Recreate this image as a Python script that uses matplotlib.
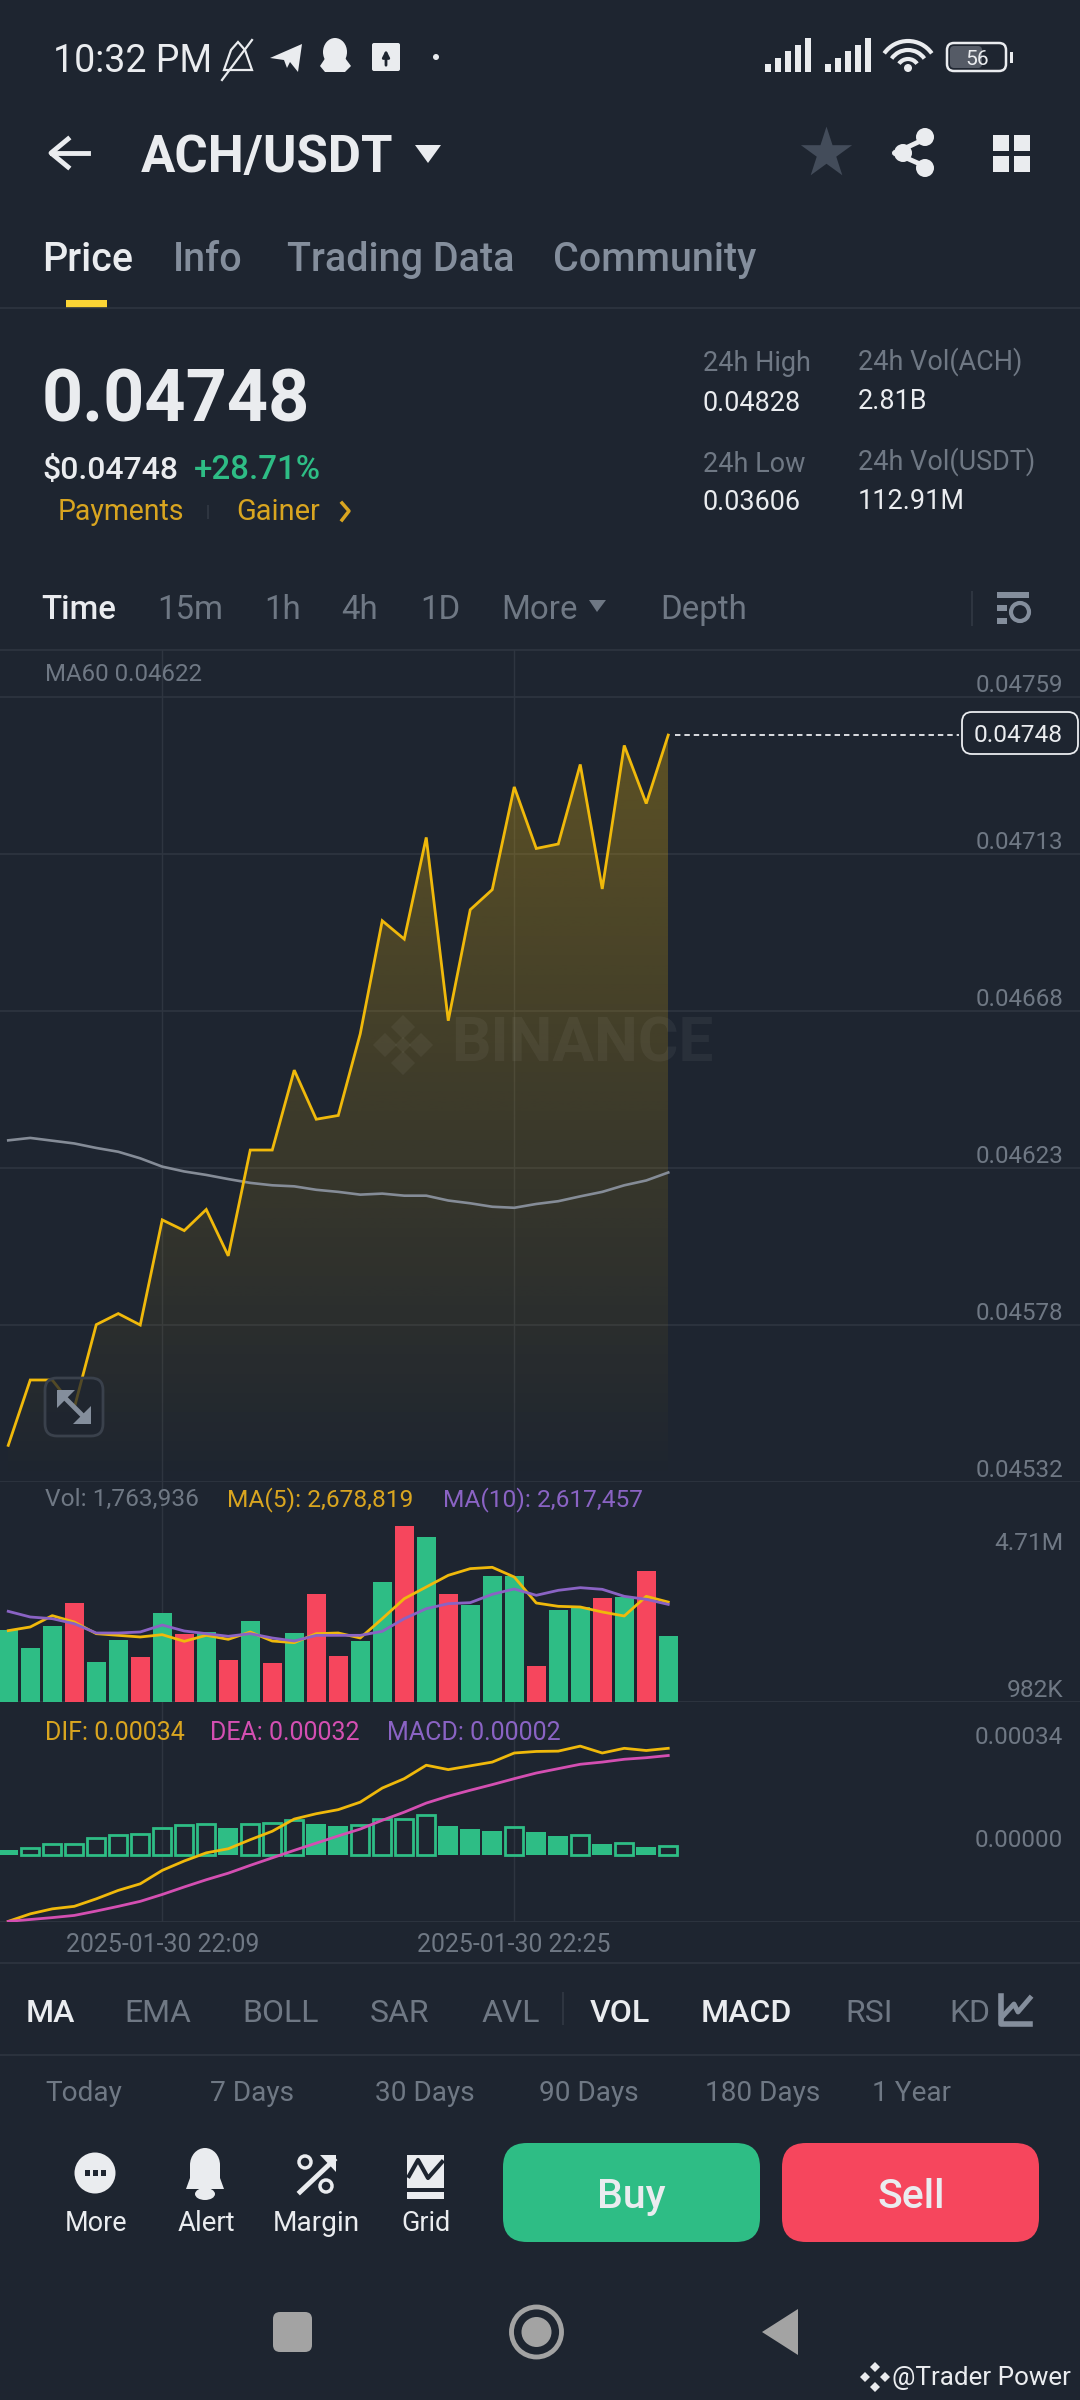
import numpy as np
import matplotlib
matplotlib.use("Agg")
import matplotlib.pyplot as plt
from matplotlib.patches import FancyBboxPatch, Polygon, Circle, Ellipse, Rectangle, Arc

plt.rcParams['font.family'] = ['Roboto', 'DejaVu Sans']

BG = '#1E2530'
GRID = '#2E3540'
YELLOW = '#F0B90B'
GREEN = '#2EBD85'
RED = '#F6465D'
GREY = '#848E9C'
DIM = '#6F7884'
WHITE = '#EAECEF'
PURPLE = '#8A63C4'
PINK = '#D44FB2'

# price panel
price = [0.045426, 0.045615, 0.045615, 0.045534, 0.045775, 0.045807, 0.045774, 0.046078,
         0.046047, 0.046108, 0.045974, 0.046280, 0.046280, 0.046511, 0.046369, 0.046380,
         0.046616, 0.046943, 0.046890, 0.047184, 0.046654, 0.046975, 0.047033, 0.047330,
         0.047152, 0.047165, 0.047395, 0.047035, 0.047450, 0.047282, 0.047480]
ma60 = [0.046308, 0.046315, 0.046307, 0.046299, 0.046286, 0.046275, 0.046256, 0.046232,
        0.046218, 0.046208, 0.046196, 0.046185, 0.046178, 0.046175, 0.046165, 0.046159,
        0.046151, 0.046154, 0.046148, 0.046148, 0.046134, 0.046126, 0.046116, 0.046113,
        0.046124, 0.046132, 0.046146, 0.046159, 0.046178, 0.046192, 0.046215]
price_ticks = [0.04759, 0.047136, 0.046682, 0.046228, 0.045774, 0.04532]
price_labels = ['0.04759', '0.04713', '0.04668', '0.04623', '0.04578', '0.04532']

# volume panel, millions
volume = [1.940, 1.457, 2.047, 2.663, 1.072, 1.671, 1.206, 2.386, 1.814, 1.877, 1.135,
          2.181, 1.046, 1.841, 2.896, 1.224, 1.644, 3.226, 4.710, 4.415, 2.905, 2.592,
          3.369, 3.369, 0.974, 2.476, 2.547, 2.788, 2.815, 3.503, 1.764]
vol_up = [1, 1, 1, 0, 1, 1, 0, 1, 0, 1, 0, 1, 0, 1, 0, 0, 1, 1, 0, 1, 0, 1, 1, 1, 0, 1, 1, 0, 1, 0, 1]
ma5 = [1.913, 2.011, 2.315, 2.145, 1.832, 1.787, 1.743, 1.805, 1.627, 1.787, 1.680, 1.877,
       1.635, 1.591, 1.832, 1.850, 1.716, 2.234, 2.770, 3.083, 3.396, 3.575, 3.611, 3.351,
       2.654, 2.565, 2.547, 2.413, 2.306, 2.833, 2.679]
ma10 = [2.431, 2.279, 2.234, 2.100, 1.850, 1.850, 1.877, 2.064, 1.904, 1.832, 1.761, 1.832,
        1.716, 1.635, 1.787, 1.787, 1.787, 1.895, 2.234, 2.502, 2.636, 2.663, 2.887, 3.030,
        2.860, 2.994, 3.065, 3.021, 2.833, 2.753, 2.617]

# macd panel, in units of 1e-5
dif = [-21.3, -18.9, -17.3, -16.5, -14.1, -11.4, -9.3, -5.0, -2.0, 0.6, 1.9, 4.8, 7.5, 11.4,
       13.1, 14.4, 16.8, 21.3, 24.3, 28.6, 27.2, 28.4, 29.6, 32.5, 33.0, 33.1, 34.7, 32.5,
       34.0, 33.3, 34.0]
dea = [-21.3, -20.7, -20.1, -19.4, -18.0, -16.5, -14.9, -12.7, -10.3, -8.0, -5.9, -3.4, -1.0,
       1.4, 3.7, 6.0, 8.2, 11.0, 13.6, 16.5, 18.7, 20.6, 22.4, 24.3, 26.1, 27.5, 28.9, 29.6,
       30.5, 31.0, 31.7]
macd = [1.4, 2.1, 3.3, 3.5, 5.2, 6.3, 6.7, 8.6, 9.4, 9.9, 8.6, 9.9, 10.1, 11.2, 9.9, 9.1, 9.5,
        11.4, 11.4, 12.7, 9.1, 8.3, 7.7, 8.7, 7.2, 6.0, 6.3, 3.3, 3.9, 2.5, 2.9]
macd_hollow = [0, 1, 1, 1, 1, 1, 1, 1, 1, 1, 0, 1, 1, 1, 0, 0, 1, 1, 1, 1, 0, 0, 0, 1, 0, 0, 1, 0, 1, 0, 1]

date_ticks = [7, 23]
date_labels = ['2025-01-30 22:09', '2025-01-30 22:25']

W, H = 1080, 2400
idx = np.arange(len(price))
xlim = (-0.375, 48.716)

fig = plt.figure(figsize=(W / 100, H / 100), dpi=100, facecolor=BG)


def panel(top, bottom):
    a = fig.add_axes([0, 1 - bottom / H, 1, (bottom - top) / H], facecolor='none')
    a.set_xlim(*xlim)
    for s in a.spines.values():
        s.set_visible(False)
    a.tick_params(length=0, labelleft=False, labelbottom=False)
    a.set_axisbelow(True)
    a.set_xticks(date_ticks)
    a.grid(True, axis='x', color=GRID, lw=1)
    return a


# price
ax = panel(650, 1482)
ax.set_ylim(0.04532, 0.047726)
ax.set_yticks(price_ticks)
ax.grid(True, axis='y', color=GRID, lw=1.2)
poly = ax.fill_between(idx, price, 0.04532, color='none')
grad = np.zeros((256, 1, 4))
grad[..., 0], grad[..., 1], grad[..., 2] = matplotlib.colors.to_rgb(YELLOW)
grad[:, 0, 3] = np.linspace(0.30, 0.0, 256)
im = ax.imshow(grad, extent=(0, 30, 0.04532, max(price)), aspect='auto', zorder=1)
im.set_clip_path(poly.get_paths()[0], transform=ax.transData)
ax.set_xlim(*xlim)
ax.set_ylim(0.04532, 0.047726)
ax.plot(idx, ma60, color='#858C97', lw=1.9, zorder=2)
ax.plot(idx, price, color=YELLOW, lw=2.0, zorder=3, solid_joinstyle='miter')
ax.plot([30.3, 43.2], [price[-1], price[-1]], color=WHITE, lw=1.3, ls=(0, (3, 2.2)), zorder=3)
for t, lab in zip(price_ticks, price_labels):
    ax.annotate(lab, xy=(1, t), xycoords=('axes fraction', 'data'), xytext=(-11.8, 8.4),
                textcoords='offset points', ha='right', va='center', color=DIM, fontsize=17.4)

# volume
ax = panel(1482, 1702)
ax.set_ylim(0, 5.898)
ax.bar(idx, volume, width=0.875, color=[GREEN if u else RED for u in vol_up], zorder=2)
ax.plot(idx, ma5, color=YELLOW, lw=2.0, zorder=3)
ax.plot(idx, ma10, color=PURPLE, lw=2.0, zorder=4)
ax.axhline(0, color=GRID, lw=2.0, zorder=1)

# macd
ax = panel(1702, 1922)
ax.set_ylim(-21.5e-5, 48.8e-5)
for i, v in enumerate(macd):
    if macd_hollow[i]:
        ax.bar(i, v * 1e-5, width=0.80, facecolor='none', edgecolor=GREEN, lw=2.0, zorder=2)
    else:
        ax.bar(i, v * 1e-5, width=0.90, color=GREEN, zorder=2)
ax.plot(idx, np.array(dif) * 1e-5, color=YELLOW, lw=2.0, zorder=3)
ax.plot(idx, np.array(dea) * 1e-5, color=PINK, lw=2.0, zorder=3)
ax.set_ylim(-21.5e-5, 48.8e-5)
ax.axhline(-21.5e-5, color=GRID, lw=2.0, zorder=1)
ax.set_xticklabels(date_labels)
ax.tick_params(axis='x', labelbottom=True, pad=8.2, labelsize=17.9, labelcolor=DIM)

# everything around the charts, in pixel coordinates
ui = fig.add_axes([0, 0, 1, 1], facecolor='none', zorder=10)
ui.set_xlim(0, W)
ui.set_ylim(H, 0)
ui.axis('off')


def txt(x, y, s, px, color=GREY, weight='normal', ha='left', **kw):
    # roboto sits a little high with va=center
    ui.text(x, y + 0.1 * px, s, fontsize=px * 0.72, color=color, fontweight=weight, ha=ha, va='center', **kw)


def hline(y, color=GRID, lw=1.2):
    ui.plot([0, W], [y, y], color=color, lw=lw)


def poly_(pts, color, **kw):
    ui.add_patch(Polygon(pts, closed=True, fc=color, ec='none', **kw))


def rbox(x0, y0, x1, y1, r, fc, ec='none', lw=0, **kw):
    ui.add_patch(FancyBboxPatch((x0 + r, y0 + r), x1 - x0 - 2 * r, y1 - y0 - 2 * r,
                                boxstyle=f'round,pad={r},rounding_size={r}', fc=fc, ec=ec, lw=lw, **kw))


# status bar
txt(53, 58, '10:32 PM', 37.5, WHITE)
ui.plot([222, 252], [80, 40], color=WHITE, lw=1.6)
ui.add_patch(Polygon([(224, 70), (231, 50), (238, 42), (245, 50), (252, 70)], fc='none', ec=WHITE, lw=1.6))
poly_([(270, 58), (302, 44), (298, 72), (290, 62), (287, 68), (284, 60)], WHITE)
ui.add_patch(Ellipse((335, 52), 24, 28, fc=WHITE))
poly_([(320, 66), (328, 54), (342, 54), (351, 66), (345, 72), (325, 72)], WHITE)
rbox(372, 43, 400, 71, 2, WHITE)
ui.annotate('', xy=(386, 47), xytext=(386, 68), arrowprops=dict(arrowstyle='-|>', color=BG, lw=2, mutation_scale=10))
ui.add_patch(Circle((436, 57), 3, fc=WHITE))
for x0 in (765, 825):
    for k in range(5):
        ui.add_patch(Rectangle((x0 + k * 10, 72 - 8 - k * 6.5), 6, 8 + k * 6.5, fc=WHITE))
for d in (58, 40, 22):
    ui.add_patch(Arc((908, 70), d, d, theta1=215, theta2=325, color=WHITE, lw=3))
ui.add_patch(Circle((908, 68), 4, fc=WHITE))
rbox(947, 43, 1006, 71, 7, 'none', WHITE, 1.8)
rbox(950, 46, 982, 68, 4, '#555B66')
ui.add_patch(Rectangle((1010, 52), 3, 11, fc=WHITE))
txt(977, 57, '56', 21, WHITE, ha='center')

# header
ui.plot([52, 88], [153, 153], color=WHITE, lw=3.5)
ui.plot([68, 51, 68], [139, 153, 167], color=WHITE, lw=3.5)
txt(141, 153, 'ACH/USDT', 51, WHITE, 'bold')
poly_([(415, 145), (441, 145), (428, 163)], WHITE)
ui.scatter([826], [153], marker='*', s=1500, color='#434C5A', lw=0)
for a, b in (((895, 153), (929, 137)), ((895, 153), (929, 168))):
    ui.plot(*zip(a, b), color=WHITE, lw=3.5)
ui.add_patch(Circle((925, 137), 9, fc=WHITE))
ui.add_patch(Circle((925, 168), 9, fc=WHITE))
ui.add_patch(Circle((903, 153), 9, fc=WHITE))
for x in (993, 1014):
    for y in (135, 156):
        ui.add_patch(Rectangle((x, y), 16, 16, fc=WHITE))

# tabs
txt(42, 256, 'Price', 39.5, WHITE, 'medium')
for x, s in ((173, 'Info'), (287, 'Trading Data'), (553, 'Community')):
    txt(x, 256, s, 39.5, GREY, 'medium')
ui.add_patch(Rectangle((66, 300), 41, 8, fc='#FCD535'))
hline(308)

# quote block
txt(42, 395, '0.04748', 72, WHITE, 'bold')
txt(42, 467, '$0.04748', 32, WHITE, 'medium')
txt(194, 467, '+28.71%', 33, GREEN, 'medium')
txt(58, 509, 'Payments', 28.5, '#D9A520')
txt(236, 509, 'Gainer', 29, '#D9A520')
ui.plot([208, 208], [506, 518], color=GRID, lw=1.5)
ui.plot([342, 349, 342], [503, 511, 520], color='#D9A520', lw=2.5)
for x, y, s, c in ((703, 361, '24h High', DIM), (703, 401, '0.04828', WHITE),
                   (858, 359, '24h Vol(ACH)', DIM), (858, 399, '2.81B', WHITE),
                   (703, 462, '24h Low', DIM), (703, 500, '0.03606', WHITE),
                   (858, 459, '24h Vol(USDT)', DIM), (858, 499, '112.91M', WHITE)):
    txt(x, y, s, 27, c)

# interval row
txt(41, 607, 'Time', 33, WHITE, 'medium')
for x, s in ((157, '15m'), (264, '1h'), (341, '4h'), (420, '1D'), (501, 'More'), (660, 'Depth')):
    txt(x, 607, s, 33, DIM)
poly_([(589, 600), (606, 600), (597, 612)], DIM)
ui.plot([972, 972], [592, 625], color=GRID, lw=1.5)
ui.add_patch(Rectangle((997, 592), 32, 6, fc=GREY))
ui.add_patch(Rectangle((997, 605), 10, 6, fc=GREY))
ui.add_patch(Rectangle((997, 618), 10, 6, fc=GREY))
ui.add_patch(Circle((1020, 612), 9, fc='none', ec=GREY, lw=3))
hline(650)

# chart captions
txt(45, 672, 'MA60 0.04622', 24, DIM)
rbox(962, 712, 1078, 754, 10, BG, WHITE, 1.3)
txt(1063, 733, '0.04748', 24.5, WHITE, ha='right')
txt(45, 1497, 'Vol: 1,763,936', 24.5, DIM)
txt(227, 1497, 'MA(5): 2,678,819', 24.5, '#D9A520')
txt(443, 1497, 'MA(10): 2,617,457', 24.5, PURPLE)
txt(1063, 1541, '4.71M', 24.5, DIM, ha='right')
txt(1063, 1688, '982K', 24.5, DIM, ha='right')
txt(45, 1730, 'DIF: 0.00034', 25, '#D9A520')
txt(210, 1730, 'DEA: 0.00032', 25, PINK)
txt(387, 1730, 'MACD: 0.00002', 25, PURPLE)
txt(1063, 1735, '0.00034', 24.2, DIM, ha='right')
txt(1063, 1838, '0.00000', 24.2, DIM, ha='right')

# watermark and expand button
txt(451, 1038, 'BINANCE', 62, '#FFFFFF', 'bold', alpha=0.05)
for dx, dy, s in ((0, -18, 12), (-18, 0, 12), (18, 0, 12), (0, 18, 12), (0, 0, 8)):
    poly_([(403 + dx - s, 1045 + dy), (403 + dx, 1045 + dy - s), (403 + dx + s, 1045 + dy), (403 + dx, 1045 + dy + s)],
          '#FFFFFF', alpha=0.05)
rbox(45, 1378, 103, 1436, 12, (0.12, 0.145, 0.19, 0.75), '#3A414C', 2)
ui.plot([62, 86], [1395, 1419], color=GREY, lw=3.5)
poly_([(57, 1390), (57, 1408), (75, 1390)], GREY)
poly_([(91, 1424), (91, 1406), (73, 1424)], GREY)

# indicator row
hline(1963)
txt(26, 2010, 'MA', 32, WHITE, 'medium')
for x, s in ((124, 'EMA'), (242, 'BOLL'), (370, 'SAR'), (481, 'AVL'), (845, 'RSI'), (949, 'KD')):
    txt(x, 2010, s, 32, DIM)
txt(590, 2010, 'VOL', 32, WHITE, 'medium')
txt(701, 2010, 'MACD', 32, WHITE, 'medium')
ui.plot([563, 563], [1993, 2024], color=GRID, lw=1.5)
rbox(986, 1990, 1040, 2030, 1, BG)
ui.plot([1001, 1001, 1030], [1996, 2024, 2024], color=GREY, lw=4)
ui.plot([1003, 1014, 1018, 1030], [2016, 2004, 2012, 1998], color=GREY, lw=3.5)
hline(2055)
for x, s in ((45, 'Today'), (210, '7 Days'), (375, '30 Days'), (539, '90 Days'), (705, '180 Days'), (872, '1 Year')):
    txt(x, 2091, s, 28, DIM)

# bottom actions
ui.add_patch(Ellipse((95, 2173), 41, 41, fc=WHITE))
for dx in (-8, 0, 8):
    ui.add_patch(Rectangle((95 + dx - 2.5, 2170), 5, 6, fc=BG))
ui.add_patch(Ellipse((205, 2165), 30, 34, fc=WHITE))
ui.add_patch(Rectangle((190, 2165), 30, 15, fc=WHITE))
poly_([(186, 2189), (224, 2189), (220, 2178), (190, 2178)], WHITE)
ui.add_patch(Ellipse((205, 2194), 20, 12, fc=WHITE))
ui.plot([300, 334], [2192, 2160], color=WHITE, lw=3.5)
poly_([(320, 2155), (336, 2155), (336, 2172)], WHITE)
ui.add_patch(Circle((305, 2162), 6, fc='none', ec=WHITE, lw=2.5))
ui.add_patch(Circle((326, 2186), 6, fc='none', ec=WHITE, lw=2.5))
poly_([(407, 2155), (444, 2155), (444, 2188), (407, 2188)], WHITE)
ui.plot([409, 418, 428, 442], [2176, 2160, 2178, 2162], color=BG, lw=3)
ui.add_patch(Rectangle((407, 2192), 37, 7, fc=WHITE))
for x, s, px in ((96, 'More', 27), (206, 'Alert', 27.5), (316, 'Margin', 28), (426, 'Grid', 27)):
    txt(x, 2221, s, px, WHITE, ha='center')
rbox(503, 2143, 760, 2242, 24, GREEN)
rbox(782, 2143, 1039, 2242, 24, RED)
txt(631, 2193, 'Buy', 41, WHITE, 'medium', ha='center')
txt(911, 2193, 'Sell', 41, WHITE, 'medium', ha='center')

# navigation bar
rbox(273, 2312, 312, 2352, 7, '#A3A3A3')
ui.add_patch(Ellipse((536.5, 2332), 50, 50, fc='none', ec='#A3A3A3', lw=3.5))
ui.add_patch(Ellipse((536.5, 2332), 30, 30, fc='#A3A3A3'))
poly_([(762, 2332), (798, 2309), (798, 2355)], '#A3A3A3')

# credit
for dx, dy in ((0, -10), (-10, 0), (10, 0), (0, 10)):
    poly_([(875 + dx - 5, 2377 + dy), (875 + dx, 2377 + dy - 5), (875 + dx + 5, 2377 + dy), (875 + dx, 2377 + dy + 5)], WHITE)
txt(892, 2375, '@Trader Power', 26, WHITE)

fig.savefig('out.png', dpi=100, facecolor=BG)
